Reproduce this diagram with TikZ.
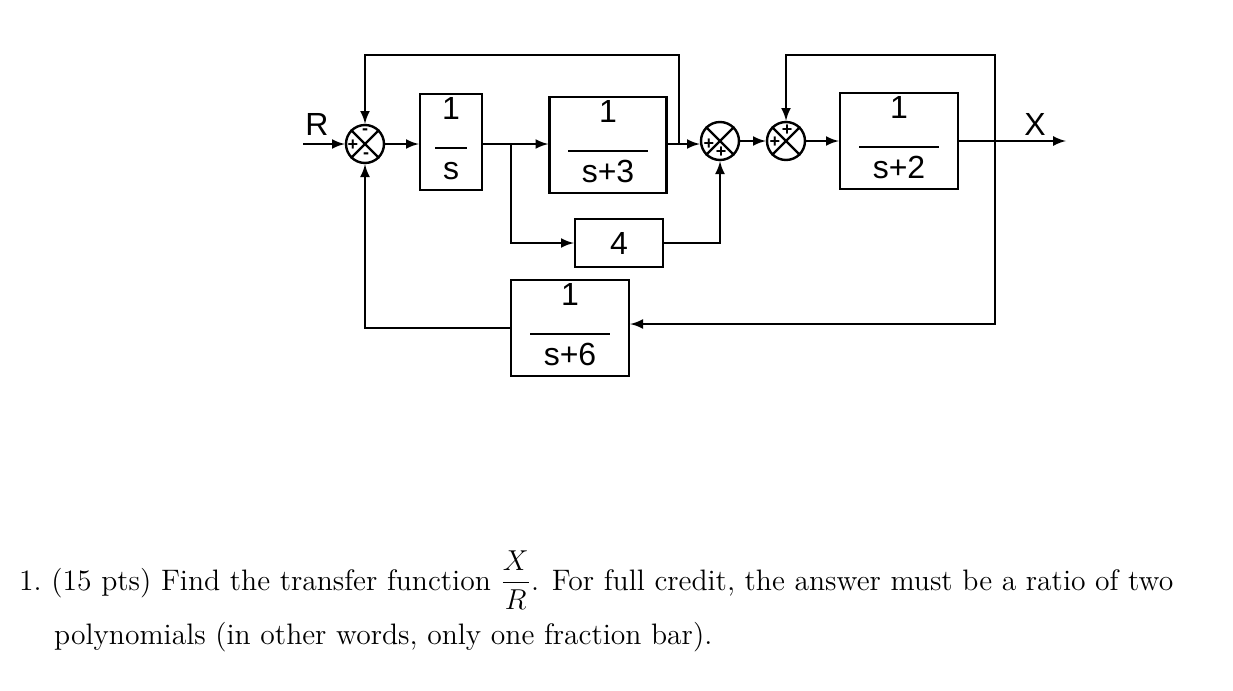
\documentclass[tikz,border=0pt]{standalone}
\usepackage{amsmath}
\usepackage{fontspec}
\newfontfamily\blockfont{Liberation Sans}
\usetikzlibrary{arrows,positioning}
\tikzset{>=latex}
\tikzset{blk/.style={draw, line width=1.2pt, font=\blockfont\fontsize{16}{18}\selectfont, inner sep=0pt},
  sumj/.style={draw, circle, line width=1.2pt, minimum size=19pt, inner sep=0pt},
  sgn/.style={font=\blockfont\bfseries\fontsize{9}{9}\selectfont, inner sep=0pt}}
\newcommand{\crossit}[1]{\draw[line width=1.2pt] (#1.north west) -- (#1.south east) (#1.north east) -- (#1.south west);}
\newcommand{\bfr}[3]{\begin{tabular}{@{}c@{}}#1\\[-3pt]\rule{#3}{0.9pt}\\[-3pt]#2\end{tabular}}
\begin{document}
\begin{tikzpicture}[x=0.5pt,y=-0.5pt, line width=1.2pt]
\useasboundingbox (0,0) rectangle (1233,691);
% summing points
\node[sumj] (sa) at (365,144) {};
\node[sumj] (sb) at (720,141) {};
\node[sumj] (sc) at (786,141) {};
\crossit{sa} \crossit{sb} \crossit{sc}
\node[sgn] at (365,132) {-};
\node[sgn] at (353,145) {+};
\node[sgn] at (366,156) {-};
\node[sgn] at (709,144) {+};
\node[sgn] at (721,152) {+};
\node[sgn] at (787,130) {+};
\node[sgn] at (775,142) {+};
% blocks
\node[blk, minimum width=31pt, minimum height=43.5pt] (integ) at (451,142) {\bfr{1}{s}{16pt}};
\node[blk, minimum width=58.5pt, minimum height=44pt] (plant) at (608,145) {\bfr{1}{s+3}{40pt}};
\node[blk, minimum width=44pt, minimum height=24pt] (gain) at (619,243) {4};
\node[blk, minimum width=59pt, minimum height=43.5pt] (out) at (899,141) {\bfr{1}{s+2}{40pt}};
\node[blk, minimum width=59pt, minimum height=43.5pt] (fb) at (570,328) {\bfr{1}{s+6}{40pt}};
% points
\coordinate (rin) at (303,144);
\coordinate (br1) at (511,144);
\coordinate (br2) at (679,144);
\coordinate (br3) at (995,141);
\coordinate (xout) at (1066,141);
\node[font=\blockfont\fontsize{16}{18}\selectfont] at (317,124) {R};
\node[font=\blockfont\fontsize{16}{18}\selectfont] at (1035,124) {X};
% connectors
\draw[->] (rin) -- (sa);
\draw[->] (sa) -- (sa -| integ.west);
\draw[->] (integ.east |- br1) -- (plant.west |- br1);
\draw[->] (br1) |- (gain);
\draw[->] (plant.east |- br2) -- (sb.west |- br2);
\draw[->] (br2) -- (679,55) -| (sa);
\draw[->] (gain) -| (sb);
\draw[->] (sb) -- (sc);
\draw[->] (sc) -- (out);
\draw[->] (out.east |- br3) -- (xout);
\draw[->] (br3) -- (995,55) -| (sc);
\draw[->] (br3) |- (fb.east |- 0,324);
\draw[->] (fb.west) -| (sa);
% question
\node[anchor=base west, font=\fontsize{14.8}{16}\selectfont, inner sep=0pt] (q1) at (18,590)
  {1.\ (15 pts) Find the transfer function $\dfrac{X}{R}$. For full credit, the answer must be a ratio of two};
\node[anchor=base west, font=\fontsize{14.8}{16}\selectfont, inner sep=0pt] (q2) at (53,644)
  {polynomials (in other words, only one fraction bar).};
\end{tikzpicture}
\end{document}
